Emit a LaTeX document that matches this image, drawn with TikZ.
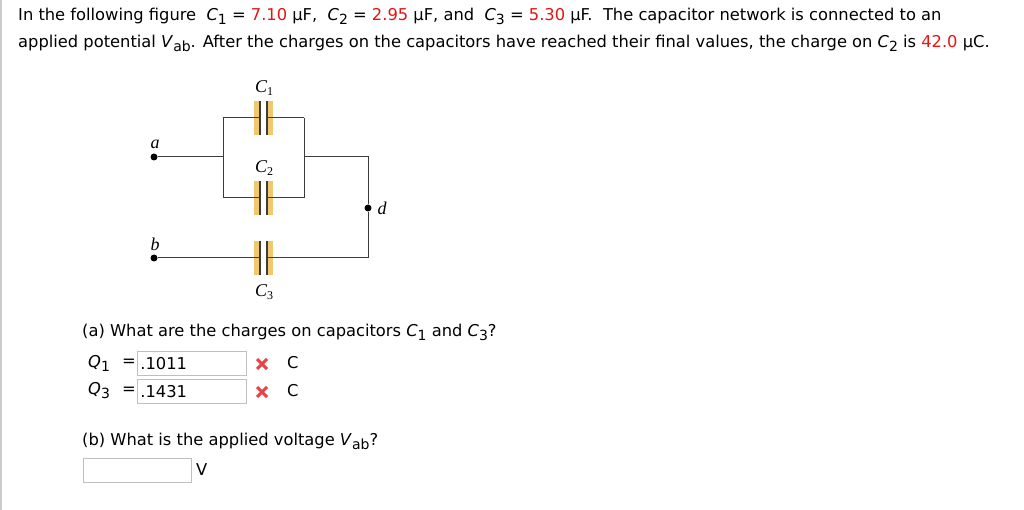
\documentclass[tikz,border=0pt]{standalone}
\usepackage{fontspec}
\setmainfont{DejaVu Sans}
\newfontfamily\ser{Liberation Serif}
\definecolor{rd}{RGB}{230,20,20}
\definecolor{band}{RGB}{240,200,110}
\definecolor{wire}{RGB}{60,60,60}
\newcommand{\vsub}[2]{\textit{#1}\raisebox{-4pt}{\fontsize{14}{14}\selectfont #2}}
\newcommand{\csub}[2]{{\ser\itshape\fontsize{18}{18}\selectfont #1}\raisebox{-3pt}{\ser\fontsize{12}{12}\selectfont #2}}
\begin{document}
\begin{tikzpicture}[x=1pt,y=-1pt,
  txt/.style={anchor=west,inner sep=0pt,font=\fontsize{16.3}{18}\selectfont},
  lab/.style={inner sep=0pt,font=\ser\itshape\fontsize{18}{18}\selectfont},
  dot/.style={circle,fill=black,inner sep=0pt,minimum size=7pt},
  box/.style={draw=black!25,line width=0.8pt,minimum height=24pt,inner sep=0pt,anchor=west,font=\fontsize{16.3}{18}\selectfont,text depth=0pt,align=left},
  w/.style={draw=wire,line width=1pt}]
\useasboundingbox (0,0) rectangle (1024,510);
\fill[white] (0,0) rectangle (1024,510);
\draw[black!20,line width=1.5pt] (1,0) -- (1,510);
% text
\node[txt] (t1) at (18,16) {In the following figure\ \ \vsub{C}{1} = \textcolor{rd}{7.10} µF,\ \ \vsub{C}{2} = \textcolor{rd}{2.95} µF,\ and \ \vsub{C}{3} = \textcolor{rd}{5.30} µF.\ \ The capacitor network is connected to an};
\node[txt] (t2) at (18,43) {applied potential \vsub{V}{ab}. After the charges on the capacitors have reached their final values, the charge on \vsub{C}{2} is \textcolor{rd}{42.0} µC.};
% circuit
\coordinate (L1) at (223,118); \coordinate (R1) at (304,118);
\coordinate (L2) at (223,198); \coordinate (R2) at (304,198);
\coordinate (LM) at (223,157); \coordinate (RM) at (304,157);
\coordinate (DR) at (368,157); \coordinate (BR) at (368,258);
\node[dot] (a) at (154,157) {};
\node[dot] (b) at (154,258) {};
\node[dot] (d) at (368,208) {};
\foreach \n/\y in {c1/118,c2/198,c3/258}{
  \fill[band] (254,\y-17) rectangle (261,\y+17);
  \fill[band] (266,\y-17) rectangle (273,\y+17);
  \draw[wire,line width=1.2pt] (260,\y-17) -- (260,\y+17);
  \draw[wire,line width=1.2pt] (267,\y-17) -- (267,\y+17);
  \coordinate (\n l) at (260,\y); \coordinate (\n r) at (267,\y);
}
\draw[w] (a) -- (LM);
\draw[w] (L1) -- (L2);
\draw[w] (L1) -- (c1l); \draw[w] (c1r) -- (R1);
\draw[w] (L2) -- (c2l); \draw[w] (c2r) -- (R2);
\draw[w] (R1) -- (R2);
\draw[w] (RM) -- (DR) -- (d);
\draw[w] (d) -- (BR) -- (c3r);
\draw[w] (c3l) -- (b);
\node[lab] (la) at (155,144) {a};
\node[lab] (lb) at (155,244) {b};
\node[lab] (ld) at (382,208) {d};
\node[inner sep=0pt] (lc1) at (264,88) {\csub{C}{1}};
\node[inner sep=0pt] (lc2) at (264,168) {\csub{C}{2}};
\node[inner sep=0pt] (lc3) at (264,292) {\csub{C}{3}};
% questions
\node[txt] (qa) at (82,332) {(a) What are the charges on capacitors \vsub{C}{1} and \vsub{C}{3}?};
\node[txt] (q1) at (88,363) {\vsub{Q}{1}};
\node[txt] (e1) at (122,363) {=};
\node[box,minimum width=109pt,text width=103pt] (b1) at (137,363) {.1011};
\node[txt] (q3) at (88,391) {\vsub{Q}{3}};
\node[txt] (e3) at (122,391) {=};
\node[box,minimum width=109pt,text width=103pt] (b3) at (137,391) {.1431};
\foreach \y/\n in {363/x1,391/x3}{
  \node[inner sep=0pt] (\n) at (262,\y+1) {\tikz[x=1pt,y=1pt]{\draw[rd!80,line width=3pt] (-5,-5)--(5,5) (-5,5)--(5,-5);}};
}
\node[txt] (u1) at (287,363) {C};
\node[txt] (u3) at (287,391) {C};
\node[txt] (qb) at (82,441) {(b) What is the applied voltage \vsub{V}{ab}?};
\node[box,minimum width=108pt] (bv) at (83,470) {};
\node[txt] (uv) at (196,470) {V};
\end{tikzpicture}
\end{document}
